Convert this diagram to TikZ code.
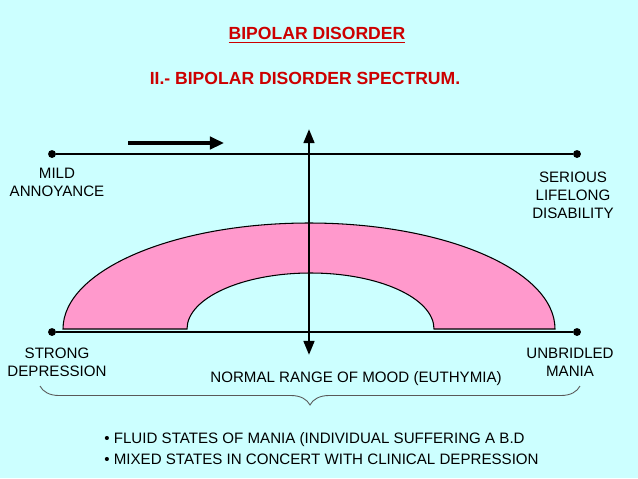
\documentclass[tikz,border=0pt]{standalone}
\usepackage{fontspec}
\setmainfont{Liberation Sans}
\usetikzlibrary{arrows.meta,decorations.pathreplacing}
\definecolor{bg}{HTML}{CCFFFF}
\definecolor{pinkf}{HTML}{FF99CC}
\definecolor{titr}{HTML}{CC0000}
\begin{document}
\begin{tikzpicture}[x=0.02cm,y=-0.02cm,
  lbl/.style={font=\fontsize{8.6}{10.2}\selectfont,align=center,inner sep=0},
  ttl/.style={font=\bfseries\fontsize{10}{12}\selectfont,text=titr,inner sep=0},
  axis/.style={line width=1.6pt},
  dot/.style={circle,fill=black,inner sep=0,minimum size=4.5pt}]
\fill[bg] (0,0) rectangle (638,478);
\useasboundingbox (0,0) rectangle (638,478);
\node[ttl] (t1) at (317,35) {\underline{BIPOLAR DISORDER}};
\node[ttl] (t2) at (305,78) {II.- BIPOLAR DISORDER SPECTRUM.};
% arch
\draw[fill=pinkf,line width=0.6pt] (63,329) arc[start angle=180,end angle=360,x radius=246,y radius=106]
  -- (434,329) arc[start angle=360,end angle=180,x radius=123.5,y radius=56] -- cycle;
\node[dot] (a1) at (52,154) {};
\node[dot] (a2) at (577,154) {};
\node[dot] (b1) at (52,332) {};
\node[dot] (b2) at (577,332) {};
\draw[axis] (a1) -- (a2);
\draw[axis] (b1) -- (b2);
\coordinate (r1) at (128,143);
\coordinate (r2) at (224,143);
\draw[line width=2.2pt,-{Triangle[length=8pt,width=7pt]}] (r1) -- (r2);
\coordinate (v1) at (309,355);
\coordinate (v2) at (309,129);
\draw[line width=1.6pt,{Triangle[length=8pt,width=6pt]}-{Triangle[length=8pt,width=6pt]}] (v1) -- (v2);
\node[lbl] (m) at (57,182) {MILD\\ANNOYANCE};
\node[lbl] (s) at (573,195) {SERIOUS\\LIFELONG\\DISABILITY};
\node[lbl] (d) at (57,362) {STRONG\\DEPRESSION};
\node[lbl] (u) at (570,362) {UNBRIDLED\\MANIA};
\node[lbl] (n) at (356,379) {NORMAL RANGE OF MOOD (EUTHYMIA)};
\coordinate (c1) at (40,386);
\coordinate (c2) at (580,386);
\draw[gray!70!black,line width=0.5pt,decorate,decoration={brace,mirror,amplitude=0.38cm}] (c1) -- (c2);
\node[lbl,anchor=west,align=left] (l1) at (104,440) {\textbullet\ FLUID STATES OF MANIA (INDIVIDUAL SUFFERING A B.D};
\node[lbl,anchor=west,align=left] (l2) at (104,459) {\textbullet\ MIXED STATES IN CONCERT WITH CLINICAL DEPRESSION};
\end{tikzpicture}
\end{document}
